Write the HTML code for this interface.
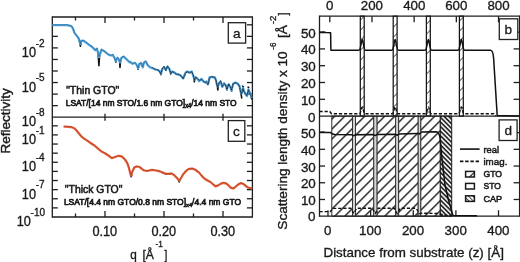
<!DOCTYPE html>
<html><head><meta charset="utf-8"><style>
html,body{margin:0;padding:0;background:#fff;width:520px;height:262px;overflow:hidden}
svg{display:block;filter:blur(0.3px)}
text{fill:#1a1a1a}
</style></head><body>
<svg width="520" height="262" viewBox="0 0 520 262" font-family="'Liberation Sans', Arial, sans-serif">
<rect width="520" height="262" fill="#fff"/>
<defs>
<pattern id="hb" patternUnits="userSpaceOnUse" width="7.07" height="7.07" patternTransform="rotate(45)"><rect width="7.07" height="7.07" fill="#fff"/><line x1="0.15" y1="0" x2="0.15" y2="7.07" stroke="#2a2a2a" stroke-width="1.15"/></pattern>
<pattern id="hd" patternUnits="userSpaceOnUse" width="7.071" height="7.071" patternTransform="rotate(45)"><rect width="7.071" height="7.071" fill="#fff"/><line x1="0.64" y1="0" x2="0.64" y2="7.071" stroke="#111" stroke-width="1.35"/><line x1="7.71" y1="0" x2="7.71" y2="7.071" stroke="#111" stroke-width="1.35"/></pattern>
<pattern id="hc" patternUnits="userSpaceOnUse" width="3.25" height="3.25" patternTransform="rotate(-45)"><rect width="3.25" height="3.25" fill="#fff"/><line x1="1.0" y1="0" x2="1.0" y2="3.25" stroke="#0d0d0d" stroke-width="1.55"/></pattern>
<pattern id="hc2" patternUnits="userSpaceOnUse" width="3.0" height="3.0" patternTransform="rotate(-45)"><rect width="3" height="3" fill="#fff"/><line x1="0" y1="0" x2="0" y2="3" stroke="#111" stroke-width="1.5"/></pattern>
<clipPath id="clipa"><rect x="52.3" y="17" width="200.1" height="100.2"/></clipPath>
<clipPath id="clipc"><rect x="52.3" y="117.2" width="200.1" height="99.8"/></clipPath>
</defs>
<rect x="360.30" y="16.20" width="3.90" height="99.90" fill="url(#hb)" stroke="#151515" stroke-width="1.25"/>
<rect x="393.20" y="16.20" width="3.90" height="99.90" fill="url(#hb)" stroke="#151515" stroke-width="1.25"/>
<rect x="426.40" y="16.20" width="3.90" height="99.90" fill="url(#hb)" stroke="#151515" stroke-width="1.25"/>
<rect x="459.40" y="16.20" width="3.90" height="99.90" fill="url(#hb)" stroke="#151515" stroke-width="1.25"/>
<rect x="331.80" y="116.10" width="20.80" height="100.10" fill="url(#hd)" stroke="#2a2a2a" stroke-width="1"/>
<rect x="355.40" y="116.10" width="18.40" height="100.10" fill="url(#hd)" stroke="#2a2a2a" stroke-width="1"/>
<rect x="376.90" y="116.10" width="18.80" height="100.10" fill="url(#hd)" stroke="#2a2a2a" stroke-width="1"/>
<rect x="398.60" y="116.10" width="19.60" height="100.10" fill="url(#hd)" stroke="#2a2a2a" stroke-width="1"/>
<rect x="420.70" y="116.10" width="19.60" height="100.10" fill="url(#hd)" stroke="#2a2a2a" stroke-width="1"/>
<rect x="352.60" y="116.10" width="2.80" height="100.10" fill="#d6d6d6" stroke="#2a2a2a" stroke-width="0.85"/>
<rect x="373.80" y="116.10" width="3.10" height="100.10" fill="#d6d6d6" stroke="#2a2a2a" stroke-width="0.85"/>
<rect x="395.70" y="116.10" width="2.90" height="100.10" fill="#d6d6d6" stroke="#2a2a2a" stroke-width="0.85"/>
<rect x="418.20" y="116.10" width="2.50" height="100.10" fill="#d6d6d6" stroke="#2a2a2a" stroke-width="0.85"/>
<rect x="440.3" y="116.10" width="11.4" height="100.10" fill="url(#hc)" stroke="#1a1a1a" stroke-width="1"/>
<line x1="52.30" y1="17.00" x2="252.40" y2="17.00" stroke="#1e1e1e" stroke-width="1.3" />
<line x1="52.30" y1="117.20" x2="252.40" y2="117.20" stroke="#1e1e1e" stroke-width="1.3" />
<line x1="52.30" y1="217.00" x2="252.40" y2="217.00" stroke="#1e1e1e" stroke-width="1.3" />
<line x1="52.30" y1="16.35" x2="52.30" y2="217.65" stroke="#1e1e1e" stroke-width="1.3" />
<line x1="252.40" y1="16.35" x2="252.40" y2="217.65" stroke="#1e1e1e" stroke-width="1.3" />
<line x1="75.50" y1="17.00" x2="75.50" y2="20.50" stroke="#1e1e1e" stroke-width="1.3" />
<line x1="75.50" y1="217.00" x2="75.50" y2="213.50" stroke="#1e1e1e" stroke-width="1.3" />
<line x1="105.00" y1="17.00" x2="105.00" y2="23.00" stroke="#1e1e1e" stroke-width="1.3" />
<line x1="105.00" y1="217.00" x2="105.00" y2="211.00" stroke="#1e1e1e" stroke-width="1.3" />
<line x1="105.00" y1="113.70" x2="105.00" y2="120.70" stroke="#1e1e1e" stroke-width="1.3" />
<line x1="134.50" y1="17.00" x2="134.50" y2="20.50" stroke="#1e1e1e" stroke-width="1.3" />
<line x1="134.50" y1="217.00" x2="134.50" y2="213.50" stroke="#1e1e1e" stroke-width="1.3" />
<line x1="164.00" y1="17.00" x2="164.00" y2="23.00" stroke="#1e1e1e" stroke-width="1.3" />
<line x1="164.00" y1="217.00" x2="164.00" y2="211.00" stroke="#1e1e1e" stroke-width="1.3" />
<line x1="164.00" y1="113.70" x2="164.00" y2="120.70" stroke="#1e1e1e" stroke-width="1.3" />
<line x1="193.50" y1="17.00" x2="193.50" y2="20.50" stroke="#1e1e1e" stroke-width="1.3" />
<line x1="193.50" y1="217.00" x2="193.50" y2="213.50" stroke="#1e1e1e" stroke-width="1.3" />
<line x1="223.00" y1="17.00" x2="223.00" y2="23.00" stroke="#1e1e1e" stroke-width="1.3" />
<line x1="223.00" y1="217.00" x2="223.00" y2="211.00" stroke="#1e1e1e" stroke-width="1.3" />
<line x1="223.00" y1="113.70" x2="223.00" y2="120.70" stroke="#1e1e1e" stroke-width="1.3" />
<line x1="52.30" y1="24.80" x2="57.80" y2="24.80" stroke="#1e1e1e" stroke-width="1.3" />
<line x1="252.40" y1="24.80" x2="246.90" y2="24.80" stroke="#1e1e1e" stroke-width="1.3" />
<line x1="52.30" y1="36.35" x2="57.80" y2="36.35" stroke="#1e1e1e" stroke-width="1.3" />
<line x1="252.40" y1="36.35" x2="246.90" y2="36.35" stroke="#1e1e1e" stroke-width="1.3" />
<line x1="52.30" y1="47.90" x2="57.80" y2="47.90" stroke="#1e1e1e" stroke-width="1.3" />
<line x1="252.40" y1="47.90" x2="246.90" y2="47.90" stroke="#1e1e1e" stroke-width="1.3" />
<line x1="52.30" y1="59.45" x2="57.80" y2="59.45" stroke="#1e1e1e" stroke-width="1.3" />
<line x1="252.40" y1="59.45" x2="246.90" y2="59.45" stroke="#1e1e1e" stroke-width="1.3" />
<line x1="52.30" y1="71.00" x2="57.80" y2="71.00" stroke="#1e1e1e" stroke-width="1.3" />
<line x1="252.40" y1="71.00" x2="246.90" y2="71.00" stroke="#1e1e1e" stroke-width="1.3" />
<line x1="52.30" y1="82.55" x2="57.80" y2="82.55" stroke="#1e1e1e" stroke-width="1.3" />
<line x1="252.40" y1="82.55" x2="246.90" y2="82.55" stroke="#1e1e1e" stroke-width="1.3" />
<line x1="52.30" y1="94.10" x2="57.80" y2="94.10" stroke="#1e1e1e" stroke-width="1.3" />
<line x1="252.40" y1="94.10" x2="246.90" y2="94.10" stroke="#1e1e1e" stroke-width="1.3" />
<line x1="52.30" y1="105.65" x2="57.80" y2="105.65" stroke="#1e1e1e" stroke-width="1.3" />
<line x1="252.40" y1="105.65" x2="246.90" y2="105.65" stroke="#1e1e1e" stroke-width="1.3" />
<line x1="52.30" y1="125.80" x2="57.80" y2="125.80" stroke="#1e1e1e" stroke-width="1.3" />
<line x1="252.40" y1="125.80" x2="246.90" y2="125.80" stroke="#1e1e1e" stroke-width="1.3" />
<line x1="52.30" y1="134.92" x2="57.80" y2="134.92" stroke="#1e1e1e" stroke-width="1.3" />
<line x1="252.40" y1="134.92" x2="246.90" y2="134.92" stroke="#1e1e1e" stroke-width="1.3" />
<line x1="52.30" y1="144.04" x2="57.80" y2="144.04" stroke="#1e1e1e" stroke-width="1.3" />
<line x1="252.40" y1="144.04" x2="246.90" y2="144.04" stroke="#1e1e1e" stroke-width="1.3" />
<line x1="52.30" y1="153.16" x2="57.80" y2="153.16" stroke="#1e1e1e" stroke-width="1.3" />
<line x1="252.40" y1="153.16" x2="246.90" y2="153.16" stroke="#1e1e1e" stroke-width="1.3" />
<line x1="52.30" y1="162.28" x2="57.80" y2="162.28" stroke="#1e1e1e" stroke-width="1.3" />
<line x1="252.40" y1="162.28" x2="246.90" y2="162.28" stroke="#1e1e1e" stroke-width="1.3" />
<line x1="52.30" y1="171.40" x2="57.80" y2="171.40" stroke="#1e1e1e" stroke-width="1.3" />
<line x1="252.40" y1="171.40" x2="246.90" y2="171.40" stroke="#1e1e1e" stroke-width="1.3" />
<line x1="52.30" y1="180.52" x2="57.80" y2="180.52" stroke="#1e1e1e" stroke-width="1.3" />
<line x1="252.40" y1="180.52" x2="246.90" y2="180.52" stroke="#1e1e1e" stroke-width="1.3" />
<line x1="52.30" y1="189.64" x2="57.80" y2="189.64" stroke="#1e1e1e" stroke-width="1.3" />
<line x1="252.40" y1="189.64" x2="246.90" y2="189.64" stroke="#1e1e1e" stroke-width="1.3" />
<line x1="52.30" y1="198.76" x2="57.80" y2="198.76" stroke="#1e1e1e" stroke-width="1.3" />
<line x1="252.40" y1="198.76" x2="246.90" y2="198.76" stroke="#1e1e1e" stroke-width="1.3" />
<line x1="52.30" y1="207.88" x2="57.80" y2="207.88" stroke="#1e1e1e" stroke-width="1.3" />
<line x1="252.40" y1="207.88" x2="246.90" y2="207.88" stroke="#1e1e1e" stroke-width="1.3" />
<line x1="319.50" y1="16.20" x2="519.60" y2="16.20" stroke="#1e1e1e" stroke-width="1.3" />
<line x1="319.50" y1="116.10" x2="519.60" y2="116.10" stroke="#1e1e1e" stroke-width="1.3" />
<line x1="319.50" y1="216.20" x2="519.60" y2="216.20" stroke="#1e1e1e" stroke-width="1.3" />
<line x1="319.50" y1="15.55" x2="319.50" y2="216.85" stroke="#1e1e1e" stroke-width="1.3" />
<line x1="519.60" y1="15.55" x2="519.60" y2="216.85" stroke="#1e1e1e" stroke-width="1.3" />
<line x1="329.80" y1="16.20" x2="329.80" y2="22.20" stroke="#1e1e1e" stroke-width="1.3" />
<line x1="371.98" y1="16.20" x2="371.98" y2="22.20" stroke="#1e1e1e" stroke-width="1.3" />
<line x1="414.16" y1="16.20" x2="414.16" y2="22.20" stroke="#1e1e1e" stroke-width="1.3" />
<line x1="456.34" y1="16.20" x2="456.34" y2="22.20" stroke="#1e1e1e" stroke-width="1.3" />
<line x1="498.52" y1="16.20" x2="498.52" y2="22.20" stroke="#1e1e1e" stroke-width="1.3" />
<line x1="328.00" y1="216.20" x2="328.00" y2="210.20" stroke="#1e1e1e" stroke-width="1.3" />
<line x1="370.63" y1="216.20" x2="370.63" y2="210.20" stroke="#1e1e1e" stroke-width="1.3" />
<line x1="413.26" y1="216.20" x2="413.26" y2="210.20" stroke="#1e1e1e" stroke-width="1.3" />
<line x1="455.89" y1="216.20" x2="455.89" y2="210.20" stroke="#1e1e1e" stroke-width="1.3" />
<line x1="498.52" y1="216.20" x2="498.52" y2="210.20" stroke="#1e1e1e" stroke-width="1.3" />
<line x1="319.50" y1="99.30" x2="325.00" y2="99.30" stroke="#1e1e1e" stroke-width="1.3" />
<line x1="519.60" y1="99.30" x2="513.60" y2="99.30" stroke="#1e1e1e" stroke-width="1.3" />
<line x1="319.50" y1="199.48" x2="325.00" y2="199.48" stroke="#1e1e1e" stroke-width="1.3" />
<line x1="519.60" y1="199.48" x2="513.60" y2="199.48" stroke="#1e1e1e" stroke-width="1.3" />
<line x1="319.50" y1="82.50" x2="325.00" y2="82.50" stroke="#1e1e1e" stroke-width="1.3" />
<line x1="519.60" y1="82.50" x2="513.60" y2="82.50" stroke="#1e1e1e" stroke-width="1.3" />
<line x1="319.50" y1="182.76" x2="325.00" y2="182.76" stroke="#1e1e1e" stroke-width="1.3" />
<line x1="519.60" y1="182.76" x2="513.60" y2="182.76" stroke="#1e1e1e" stroke-width="1.3" />
<line x1="319.50" y1="65.70" x2="325.00" y2="65.70" stroke="#1e1e1e" stroke-width="1.3" />
<line x1="519.60" y1="65.70" x2="513.60" y2="65.70" stroke="#1e1e1e" stroke-width="1.3" />
<line x1="319.50" y1="166.04" x2="325.00" y2="166.04" stroke="#1e1e1e" stroke-width="1.3" />
<line x1="519.60" y1="166.04" x2="513.60" y2="166.04" stroke="#1e1e1e" stroke-width="1.3" />
<line x1="319.50" y1="48.90" x2="325.00" y2="48.90" stroke="#1e1e1e" stroke-width="1.3" />
<line x1="519.60" y1="48.90" x2="513.60" y2="48.90" stroke="#1e1e1e" stroke-width="1.3" />
<line x1="319.50" y1="149.32" x2="325.00" y2="149.32" stroke="#1e1e1e" stroke-width="1.3" />
<line x1="519.60" y1="149.32" x2="513.60" y2="149.32" stroke="#1e1e1e" stroke-width="1.3" />
<line x1="319.50" y1="32.10" x2="325.00" y2="32.10" stroke="#1e1e1e" stroke-width="1.3" />
<line x1="519.60" y1="32.10" x2="513.60" y2="32.10" stroke="#1e1e1e" stroke-width="1.3" />
<line x1="319.50" y1="132.60" x2="325.00" y2="132.60" stroke="#1e1e1e" stroke-width="1.3" />
<line x1="519.60" y1="132.60" x2="513.60" y2="132.60" stroke="#1e1e1e" stroke-width="1.3" />
<g clip-path="url(#clipa)">
<polyline points="79.60,41.80 80.40,46.10 81.30,41.50" fill="none" stroke="#111" stroke-width="1.6" stroke-linejoin="round" stroke-linecap="round" />
<polyline points="98.20,54.00 98.90,65.80 99.60,55.00" fill="none" stroke="#111" stroke-width="1.6" stroke-linejoin="round" stroke-linecap="round" />
<polyline points="115.20,59.00 115.80,62.20 116.40,59.00" fill="none" stroke="#111" stroke-width="1.6" stroke-linejoin="round" stroke-linecap="round" />
<polyline points="119.50,60.00 120.00,67.50 120.60,60.00" fill="none" stroke="#111" stroke-width="1.6" stroke-linejoin="round" stroke-linecap="round" />
<polyline points="137.70,66.00 138.10,69.30 138.60,66.00" fill="none" stroke="#111" stroke-width="1.6" stroke-linejoin="round" stroke-linecap="round" />
<polyline points="160.50,72.00 160.90,74.60 161.40,72.00" fill="none" stroke="#111" stroke-width="1.6" stroke-linejoin="round" stroke-linecap="round" />
<polyline points="193.90,78.00 194.40,81.80 194.90,78.00" fill="none" stroke="#111" stroke-width="1.6" stroke-linejoin="round" stroke-linecap="round" />
<polyline points="217.30,85.00 217.80,90.00 218.40,85.00" fill="none" stroke="#111" stroke-width="1.6" stroke-linejoin="round" stroke-linecap="round" />
<polyline points="240.90,92.00 241.30,95.20 241.70,98.00" fill="none" stroke="#111" stroke-width="1.6" stroke-linejoin="round" stroke-linecap="round" />
<polyline points="242.80,86.20 243.30,86.80" fill="none" stroke="#111" stroke-width="1.6" stroke-linejoin="round" stroke-linecap="round" />
<polyline points="248.10,87.20 248.70,87.60" fill="none" stroke="#111" stroke-width="1.6" stroke-linejoin="round" stroke-linecap="round" />
<polyline points="226.60,88.00 227.00,89.80" fill="none" stroke="#111" stroke-width="1.6" stroke-linejoin="round" stroke-linecap="round" />
<polyline points="231.30,89.00 231.70,91.00" fill="none" stroke="#111" stroke-width="1.6" stroke-linejoin="round" stroke-linecap="round" />
<polyline points="251.20,97.00 251.50,98.60" fill="none" stroke="#111" stroke-width="1.6" stroke-linejoin="round" stroke-linecap="round" />
<polyline points="244.70,92.50 245.00,93.50" fill="none" stroke="#111" stroke-width="1.6" stroke-linejoin="round" stroke-linecap="round" />
<polyline points="52.80,25.20 60.00,25.20 66.90,25.20 70.30,25.80 72.00,26.90 73.20,29.20 74.30,32.60 76.00,34.90 77.80,37.20 78.90,38.90 79.70,42.00 80.40,44.00 81.20,41.20 82.90,40.60 85.80,42.30 88.10,44.10 90.40,45.80 92.20,46.90 95.20,50.30 96.90,48.60 98.00,52.60 98.90,57.00 100.10,53.80 101.50,49.70 103.80,50.90 106.60,53.20 108.90,54.90 111.20,55.50 112.90,54.90 114.60,58.30 115.80,61.00 117.50,57.80 119.20,60.00 120.00,62.50 121.50,57.80 123.80,56.60 126.70,59.50 129.50,62.30 130.30,62.00 132.60,63.80 134.90,62.80 136.60,64.90 138.10,68.40 139.50,63.80 141.20,63.20 142.70,67.40 144.00,62.60 145.80,61.50 147.50,64.90 149.80,67.20 152.60,68.30 155.50,69.50 157.80,70.00 159.50,71.20 160.90,73.80 162.40,68.90 164.10,67.20 165.80,70.00 167.50,66.50 169.40,69.20 170.80,73.40 172.30,71.50 174.60,72.60 176.90,74.30 178.60,74.30 180.90,76.00 183.20,78.50 185.50,72.60 187.20,71.50 189.50,72.60 191.80,71.50 193.50,76.60 194.40,79.50 195.80,77.20 197.50,78.90 199.20,81.20 201.50,78.90 203.80,81.80 205.50,82.30 206.30,81.50 208.00,84.30 209.50,77.40 212.00,76.90 214.90,77.40 216.00,80.30 216.80,84.30 217.80,86.50 218.90,83.80 220.60,81.50 222.30,87.00 224.10,83.20 225.80,85.50 226.90,89.20 228.60,84.30 230.40,87.20 231.50,90.30 233.20,83.80 235.50,82.60 237.80,83.80 239.50,86.00 240.70,92.00 241.50,93.50 243.00,88.00 244.10,91.20 245.50,94.10 247.00,96.00 248.40,89.50 249.40,91.70 250.80,95.00 251.80,97.00" fill="none" stroke="#52a8e2" stroke-width="2.3" stroke-linejoin="round" stroke-linecap="round" />
<polyline points="52.80,24.90 60.00,24.90 66.90,24.90 70.30,25.50 72.00,26.60 73.20,28.90 74.30,32.30 76.00,34.60 77.80,36.90 78.90,38.60 79.70,41.70 80.40,43.70 81.20,40.90 82.90,40.30 85.80,42.00 88.10,43.80 90.40,45.50 92.20,46.60 95.20,50.00 96.90,48.30 98.00,52.30 98.90,56.70 100.10,53.50 101.50,49.40 103.80,50.60 106.60,52.90 108.90,54.60 111.20,55.20 112.90,54.60 114.60,58.00 115.80,60.70 117.50,57.50 119.20,59.70 120.00,62.20 121.50,57.50 123.80,56.30 126.70,59.20 129.50,62.00 130.30,61.70 132.60,63.50 134.90,62.50 136.60,64.60 138.10,68.10 139.50,63.50 141.20,62.90 142.70,67.10 144.00,62.30 145.80,61.20 147.50,64.60 149.80,66.90 152.60,68.00 155.50,69.20 157.80,69.70 159.50,70.90 160.90,73.50 162.40,68.60 164.10,66.90 165.80,69.70 167.50,66.20 169.40,68.90 170.80,73.10 172.30,71.20 174.60,72.30 176.90,74.00 178.60,74.00 180.90,75.70 183.20,78.20 185.50,72.30 187.20,71.20 189.50,72.30 191.80,71.20 193.50,76.30 194.40,79.20 195.80,76.90 197.50,78.60 199.20,80.90 201.50,78.60 203.80,81.50 205.50,82.00 206.30,81.20 208.00,84.00 209.50,77.10 212.00,76.60 214.90,77.10 216.00,80.00 216.80,84.00 217.80,86.20 218.90,83.50 220.60,81.20 222.30,86.70 224.10,82.90 225.80,85.20 226.90,88.90 228.60,84.00 230.40,86.90 231.50,90.00 233.20,83.50 235.50,82.30 237.80,83.50 239.50,85.70 240.70,91.70 241.50,93.20 243.00,87.70 244.10,90.90 245.50,93.80 247.00,95.70 248.40,89.20 249.40,91.40 250.80,94.70 251.80,96.70" fill="none" stroke="#1f3f5e" stroke-width="0.8" stroke-linejoin="round" stroke-linecap="round" stroke-opacity="0.55"/>
<polyline points="152.60,67.72 155.50,69.71 157.80,69.76 159.50,71.57 160.90,74.23 162.40,67.87 164.10,66.03 165.80,70.98 167.50,65.97 169.40,68.61 170.80,74.79 172.30,71.52 174.60,73.57 176.90,74.34 178.60,74.76 180.90,75.19 183.20,78.95 185.50,73.66 187.20,71.66 189.50,73.33 191.80,72.05 193.50,75.57 194.40,80.27 195.80,77.54 197.50,78.48 199.20,80.08 201.50,79.95 203.80,81.83 205.50,82.97 206.30,82.58 208.00,84.96 209.50,78.59 212.00,76.73 214.90,78.28 216.00,80.26 216.80,85.53 217.80,87.59 218.90,82.85 220.60,80.65 222.30,86.36 224.10,84.51 225.80,85.43 226.90,89.63 228.60,83.88 230.40,87.32 231.50,90.10 233.20,83.51 235.50,82.92 237.80,84.12 239.50,87.15 240.70,92.57 241.50,94.72 243.00,89.03 244.10,92.58 245.50,94.65 247.00,95.22 248.40,90.54 249.40,93.01 250.80,96.15 251.80,97.28" fill="none" stroke="#111" stroke-width="0.9" stroke-linejoin="round" stroke-linecap="round" stroke-dasharray="1.2,1.6" stroke-opacity="0.75"/>
</g>
<g clip-path="url(#clipc)">
<polyline points="130.60,175.00 131.20,176.80 131.80,175.00" fill="none" stroke="#111" stroke-width="1.6" stroke-linejoin="round" stroke-linecap="round" />
<polyline points="178.60,180.50 179.20,181.80 179.80,180.50" fill="none" stroke="#111" stroke-width="1.6" stroke-linejoin="round" stroke-linecap="round" />
<polyline points="162.00,172.40 166.00,173.90 170.00,174.20" fill="none" stroke="#111" stroke-width="1.6" stroke-linejoin="round" stroke-linecap="round" />
<polyline points="64.40,126.60 68.00,126.80 71.50,127.20 74.30,128.30 76.60,130.60 78.90,133.50 81.20,136.30 84.10,138.60 87.50,140.90 90.90,143.20 94.40,145.50 98.00,148.60 101.40,151.50 104.90,153.20 108.30,155.50 111.80,158.10 115.20,157.00 118.60,155.80 122.10,156.60 124.90,159.50 127.20,162.90 128.90,167.80 130.10,172.80 131.00,175.60 132.20,172.00 134.30,167.60 136.60,166.50 139.50,167.00 141.80,168.80 144.10,170.50 147.50,171.00 152.10,169.90 155.50,170.50 158.00,170.90 161.40,172.00 164.90,173.50 168.30,173.80 171.20,173.50 174.00,174.90 176.90,178.10 179.20,180.60 180.90,178.30 183.20,174.30 186.10,170.90 188.90,168.90 192.40,168.60 195.20,169.70 197.50,171.50 198.90,172.40 201.70,175.90 204.60,178.80 207.50,180.50 210.30,182.00 213.20,184.50 215.50,186.30 217.80,185.60 220.60,183.90 223.50,182.80 226.40,183.60 228.70,185.60 231.00,187.90 233.20,188.50 235.50,186.80 237.50,185.00 240.60,183.20 243.20,183.90 245.80,186.00 247.80,187.50 249.90,188.00 251.80,188.40" fill="none" stroke="#e85f38" stroke-width="2.25" stroke-linejoin="round" stroke-linecap="round" />
<polyline points="64.40,126.30 68.00,126.50 71.50,126.90 74.30,128.00 76.60,130.30 78.90,133.20 81.20,136.00 84.10,138.30 87.50,140.60 90.90,142.90 94.40,145.20 98.00,148.30 101.40,151.20 104.90,152.90 108.30,155.20 111.80,157.80 115.20,156.70 118.60,155.50 122.10,156.30 124.90,159.20 127.20,162.60 128.90,167.50 130.10,172.50 131.00,175.30 132.20,171.70 134.30,167.30 136.60,166.20 139.50,166.70 141.80,168.50 144.10,170.20 147.50,170.70 152.10,169.60 155.50,170.20 158.00,170.60 161.40,171.70 164.90,173.20 168.30,173.50 171.20,173.20 174.00,174.60 176.90,177.80 179.20,180.30 180.90,178.00 183.20,174.00 186.10,170.60 188.90,168.60 192.40,168.30 195.20,169.40 197.50,171.20 198.90,172.10 201.70,175.60 204.60,178.50 207.50,180.20 210.30,181.70 213.20,184.20 215.50,186.00 217.80,185.30 220.60,183.60 223.50,182.50 226.40,183.30 228.70,185.30 231.00,187.60 233.20,188.20 235.50,186.50 237.50,184.70 240.60,182.90 243.20,183.60 245.80,185.70 247.80,187.20 249.90,187.70 251.80,188.10" fill="none" stroke="#862c22" stroke-width="0.8" stroke-linejoin="round" stroke-linecap="round" stroke-opacity="0.55"/>
</g>
<path d="M319.50,32.4 L323,32.2 L326,32.6 L330.6,32.7 L330.9,50.2 L358.95,50.20 C360.76,50.20 361.35,39.60 362.25,39.60 C363.15,39.60 363.74,50.20 365.55,50.20 L391.85,50.20 C393.66,50.20 394.25,39.60 395.15,39.60 C396.05,39.60 396.63,50.20 398.45,50.20 L425.05,50.20 C426.87,50.20 427.45,39.60 428.35,39.60 C429.25,39.60 429.84,50.20 431.65,50.20 L458.05,50.20 C459.87,50.20 460.45,39.60 461.35,39.60 C462.25,39.60 462.84,50.20 464.65,50.20 L490.6,50.2 C492.6,50.4 493.2,52.5 493.6,58 L497.2,115.6 L519,116.0" fill="none" stroke="#111" stroke-width="1.5" stroke-linejoin="round"/>
<path d="M319.50,111.6 L329.8,111.6 L331.5,113.7 L359.45,113.70 C360.99,113.70 361.35,107.00 362.25,107.00 C363.15,107.00 363.51,113.70 365.05,113.70 L392.35,113.70 C393.89,113.70 394.25,107.00 395.15,107.00 C396.05,107.00 396.41,113.70 397.95,113.70 L425.55,113.70 C427.09,113.70 427.45,107.00 428.35,107.00 C429.25,107.00 429.61,113.70 431.15,113.70 L458.55,113.70 C460.09,113.70 460.45,107.00 461.35,107.00 C462.25,107.00 462.61,113.70 464.15,113.70 L493.8,113.7 L495.6,116" fill="none" stroke="#111" stroke-width="1.5" stroke-dasharray="3.2,1.9"/>
<path d="M319.50,132.3 L323,132.0 L326,132.4 L330.6,132.6 C332,133.5 333,134.4 335,134.5 L351.8,134.7 L353.6,135.8 L355.6,134.7 L373.4,134.6 L375.3,135.6 L377.4,134.4 L395.2,134.3 L397.2,135.2 L399.2,134.0 L417.6,133.4 L419.4,134 L421.4,132 L436.5,131.8 C438.5,132.3 439.5,134 440.2,138.5 L441.6,155 L445,185 L448.5,200 L453,215.6 L477,215.7" fill="none" stroke="#111" stroke-width="1.5" stroke-linejoin="round"/>
<path d="M319.50,211.6 L330.4,211.6 L332.5,208.4 L350.8,208.3 L353.8,213.4 L356.6,208.3 L372.4,208.3 L375.3,213.4 L378.2,208.3 L394.2,208.3 L397.2,213.6 L400.2,208.3 L416.2,208.3 L419.4,213.6 L422.2,213.2 L437.5,213.4 L441,214.2 L446,215.2 L452,215.9" fill="none" stroke="#111" stroke-width="1.4" stroke-dasharray="3.2,1.9"/>
<rect x="228.30" y="22.70" width="17.30" height="20.40" stroke="#222" stroke-width="1.3" fill="#fff" />
<rect x="228.30" y="120.60" width="16.50" height="20.70" stroke="#222" stroke-width="1.3" fill="#fff" />
<rect x="499.30" y="18.80" width="18.50" height="20.70" stroke="#222" stroke-width="1.3" fill="#fff" />
<rect x="499.10" y="119.90" width="18.00" height="20.60" stroke="#222" stroke-width="1.3" fill="#fff" />
<text transform="translate(232.88,37.90) scale(1.0000,1)" font-size="13.60" stroke="#1a1a1a" stroke-width="0.33">a</text>
<text transform="translate(233.04,135.95) scale(1.0000,1)" font-size="13.60" stroke="#1a1a1a" stroke-width="0.33">c</text>
<text transform="translate(504.61,34.15) scale(1.0000,1)" font-size="13.60" stroke="#1a1a1a" stroke-width="0.33">b</text>
<text transform="translate(504.47,135.20) scale(1.0000,1)" font-size="13.60" stroke="#1a1a1a" stroke-width="0.33">d</text>
<text transform="translate(21.83,56.90) scale(0.8981,1)" font-size="14.18" stroke="#1a1a1a" stroke-width="0.37">10</text>
<text transform="translate(35.76,46.60) scale(1.0000,1)" font-size="10.00" stroke="#1a1a1a" stroke-width="0.33">-2</text>
<text transform="translate(21.83,91.55) scale(0.8981,1)" font-size="14.18" stroke="#1a1a1a" stroke-width="0.37">10</text>
<text transform="translate(35.76,81.25) scale(1.0000,1)" font-size="10.00" stroke="#1a1a1a" stroke-width="0.33">-5</text>
<text transform="translate(21.83,126.20) scale(0.8981,1)" font-size="14.18" stroke="#1a1a1a" stroke-width="0.37">10</text>
<text transform="translate(35.76,115.90) scale(1.0000,1)" font-size="10.00" stroke="#1a1a1a" stroke-width="0.33">-8</text>
<text transform="translate(21.83,143.92) scale(0.8981,1)" font-size="14.18" stroke="#1a1a1a" stroke-width="0.37">10</text>
<text transform="translate(35.76,133.62) scale(1.0000,1)" font-size="10.00" stroke="#1a1a1a" stroke-width="0.33">-1</text>
<text transform="translate(21.83,171.28) scale(0.8981,1)" font-size="14.18" stroke="#1a1a1a" stroke-width="0.37">10</text>
<text transform="translate(35.76,160.98) scale(1.0000,1)" font-size="10.00" stroke="#1a1a1a" stroke-width="0.33">-4</text>
<text transform="translate(21.83,198.64) scale(0.8981,1)" font-size="14.18" stroke="#1a1a1a" stroke-width="0.37">10</text>
<text transform="translate(35.76,188.34) scale(1.0000,1)" font-size="10.00" stroke="#1a1a1a" stroke-width="0.33">-7</text>
<text transform="translate(16.63,226.00) scale(0.8981,1)" font-size="14.18" stroke="#1a1a1a" stroke-width="0.37">10</text>
<text transform="translate(30.56,215.70) scale(1.0000,1)" font-size="10.00" stroke="#1a1a1a" stroke-width="0.33">-10</text>
<text transform="translate(92.40,235.60) scale(0.9168,1)" font-size="13.90" stroke="#1a1a1a" stroke-width="0.36">0.10</text>
<text transform="translate(151.40,235.60) scale(0.9168,1)" font-size="13.90" stroke="#1a1a1a" stroke-width="0.36">0.20</text>
<text transform="translate(210.40,235.60) scale(0.9168,1)" font-size="13.90" stroke="#1a1a1a" stroke-width="0.36">0.30</text>
<text transform="translate(130.31,258.50) scale(0.9347,1)" font-size="12.60" stroke="#1a1a1a" stroke-width="0.35">q</text>
<text transform="translate(142.44,258.50) scale(0.9725,1)" font-size="12.50" stroke="#1a1a1a" stroke-width="0.34">[Å</text>
<text transform="translate(155.54,247.40) scale(0.9641,1)" font-size="8.60" stroke="#1a1a1a" stroke-width="0.34">-1</text>
<text transform="translate(164.62,258.50) scale(0.7976,1)" font-size="12.60" stroke="#1a1a1a" stroke-width="0.41">]</text>
<text transform="translate(10.00,153.61) rotate(-90) scale(1.0743,1)" font-size="12.62" stroke="#1a1a1a" stroke-width="0.40">Reflectivity</text>
<text transform="translate(66.15,93.60) scale(0.9986,1)" font-size="10.48" stroke="#1a1a1a" stroke-width="0.55">"Thin GTO"</text>
<text transform="translate(65.71,106.00) scale(0.9008,1)" font-size="9.4" stroke="#1a1a1a" stroke-width="0.72">LSAT/[14 nm STO/1.6 nm GTO]<tspan font-size="6.39" dy="2.0">x4</tspan><tspan dy="-2.0">/14 nm STO</tspan></text>
<text transform="translate(64.85,193.00) scale(1.0213,1)" font-size="10.21" stroke="#1a1a1a" stroke-width="0.54">"Thick GTO"</text>
<text transform="translate(63.90,204.50) scale(0.9233,1)" font-size="9.2" stroke="#1a1a1a" stroke-width="0.72">LSAT/[4.4 nm GTO/0.8 nm STO]<tspan font-size="6.26" dy="2.0">x4</tspan><tspan dy="-2.0">/4.4 nm GTO</tspan></text>
<text transform="translate(300.92,37.60) scale(1.0000,1)" font-size="13.40" stroke="#1a1a1a" stroke-width="0.33">50</text>
<text transform="translate(300.92,138.10) scale(1.0000,1)" font-size="13.40" stroke="#1a1a1a" stroke-width="0.33">50</text>
<text transform="translate(300.92,54.40) scale(1.0000,1)" font-size="13.40" stroke="#1a1a1a" stroke-width="0.33">40</text>
<text transform="translate(300.92,154.82) scale(1.0000,1)" font-size="13.40" stroke="#1a1a1a" stroke-width="0.33">40</text>
<text transform="translate(300.92,71.20) scale(1.0000,1)" font-size="13.40" stroke="#1a1a1a" stroke-width="0.33">30</text>
<text transform="translate(300.92,171.54) scale(1.0000,1)" font-size="13.40" stroke="#1a1a1a" stroke-width="0.33">30</text>
<text transform="translate(300.92,88.00) scale(1.0000,1)" font-size="13.40" stroke="#1a1a1a" stroke-width="0.33">20</text>
<text transform="translate(300.92,188.26) scale(1.0000,1)" font-size="13.40" stroke="#1a1a1a" stroke-width="0.33">20</text>
<text transform="translate(300.92,104.80) scale(1.0000,1)" font-size="13.40" stroke="#1a1a1a" stroke-width="0.33">10</text>
<text transform="translate(300.92,204.98) scale(1.0000,1)" font-size="13.40" stroke="#1a1a1a" stroke-width="0.33">10</text>
<text transform="translate(308.07,121.50) scale(1.0000,1)" font-size="13.40" stroke="#1a1a1a" stroke-width="0.33">0</text>
<text transform="translate(308.07,220.80) scale(1.0000,1)" font-size="13.40" stroke="#1a1a1a" stroke-width="0.33">0</text>
<text transform="translate(326.10,9.60) scale(1.0000,1)" font-size="13.30" stroke="#1a1a1a" stroke-width="0.33">0</text>
<text transform="translate(360.81,9.60) scale(1.0000,1)" font-size="13.30" stroke="#1a1a1a" stroke-width="0.33">200</text>
<text transform="translate(403.17,9.60) scale(1.0000,1)" font-size="13.30" stroke="#1a1a1a" stroke-width="0.33">400</text>
<text transform="translate(445.17,9.60) scale(1.0000,1)" font-size="13.30" stroke="#1a1a1a" stroke-width="0.33">600</text>
<text transform="translate(487.40,9.60) scale(1.0000,1)" font-size="13.30" stroke="#1a1a1a" stroke-width="0.33">800</text>
<text transform="translate(324.10,234.90) scale(1.0000,1)" font-size="13.30" stroke="#1a1a1a" stroke-width="0.33">0</text>
<text transform="translate(359.09,234.90) scale(1.0000,1)" font-size="13.30" stroke="#1a1a1a" stroke-width="0.33">100</text>
<text transform="translate(401.89,234.90) scale(1.0000,1)" font-size="13.30" stroke="#1a1a1a" stroke-width="0.33">200</text>
<text transform="translate(444.60,234.90) scale(1.0000,1)" font-size="13.30" stroke="#1a1a1a" stroke-width="0.33">300</text>
<text transform="translate(487.33,234.90) scale(1.0000,1)" font-size="13.30" stroke="#1a1a1a" stroke-width="0.33">400</text>
<text transform="translate(323.50,256.50) scale(0.9993,1)" font-size="13.37" stroke="#1a1a1a" stroke-width="0.33">Distance from substrate (z) [Å]</text>
<text transform="translate(286.80,229.63) rotate(-90) scale(1.0458,1)" font-size="13.00" stroke="#1a1a1a" stroke-width="0.33">Scattering length density x 10</text>
<text transform="translate(275.60,49.65) rotate(-90) scale(0.8878,1)" font-size="9.00" stroke="#1a1a1a" stroke-width="0.33">-6</text>
<text transform="translate(286.80,37.98) rotate(-90) scale(1.0586,1)" font-size="13.00" stroke="#1a1a1a" stroke-width="0.33">[Å</text>
<text transform="translate(275.90,24.22) rotate(-90) scale(1.0622,1)" font-size="9.00" stroke="#1a1a1a" stroke-width="0.33">-2</text>
<text transform="translate(286.80,15.49) rotate(-90) scale(0.8504,1)" font-size="13.00" stroke="#1a1a1a" stroke-width="0.33">]</text>
<line x1="460.00" y1="149.10" x2="479.60" y2="149.10" stroke="#111" stroke-width="1.6" />
<line x1="460.00" y1="161.40" x2="479.60" y2="161.40" stroke="#111" stroke-width="1.6" stroke-dasharray="3.4,1.8"/>
<text transform="translate(483.48,152.70) scale(1.0977,1)" font-size="8.55" stroke="#1a1a1a" stroke-width="0.46">real</text>
<text transform="translate(483.44,164.60) scale(1.1267,1)" font-size="8.69" stroke="#1a1a1a" stroke-width="0.44">imag.</text>
<rect x="465.60" y="171.40" width="8.80" height="5.60" stroke="#1a1a1a" stroke-width="1.5" fill="#fff" />
<line x1="469.50" y1="177.00" x2="474.40" y2="172.30" stroke="#222" stroke-width="1.1" />
<rect x="465.60" y="183.40" width="8.80" height="5.60" stroke="#1a1a1a" stroke-width="1.5" fill="#fff" />
<rect x="465.60" y="195.80" width="8.80" height="5.60" stroke="#1a1a1a" stroke-width="1.5" fill="url(#hc2)" />
<text transform="translate(483.47,177.20) scale(0.8908,1)" font-size="9.74" stroke="#1a1a1a" stroke-width="0.56">GTO</text>
<text transform="translate(483.51,189.20) scale(0.8765,1)" font-size="9.74" stroke="#1a1a1a" stroke-width="0.57">STO</text>
<text transform="translate(483.43,201.60) scale(0.9225,1)" font-size="9.89" stroke="#1a1a1a" stroke-width="0.54">CAP</text>
</svg>
</body></html>
